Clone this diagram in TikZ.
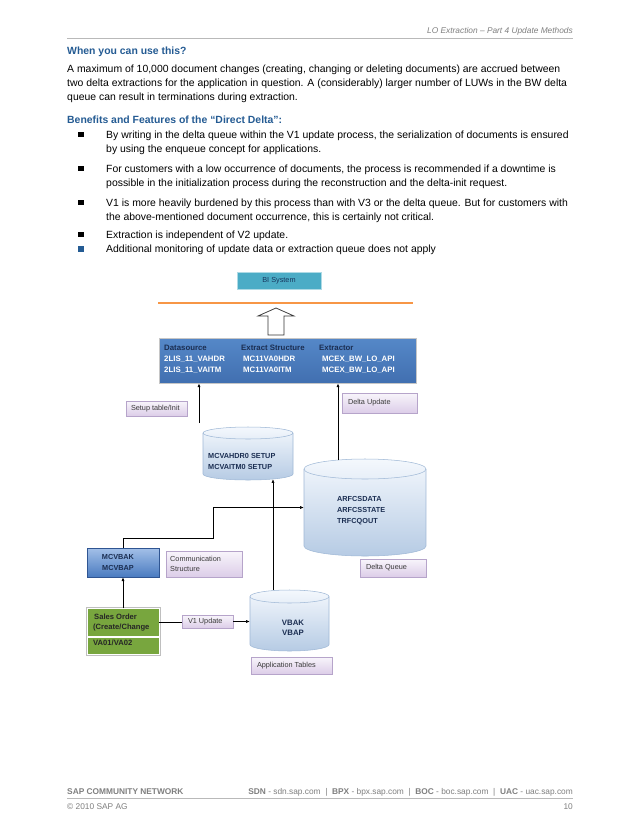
\documentclass[tikz,border=0pt]{standalone}
\usepackage{fontspec}
\setmainfont{Liberation Sans}
\usetikzlibrary{calc,fit,shadows,arrows.meta}
\definecolor{headblue}{HTML}{245B93}
\definecolor{hdrgray}{HTML}{7F7F7F}
\definecolor{bitea}{HTML}{4BACC6}
\definecolor{bitext}{HTML}{17365D}
\definecolor{orangeline}{HTML}{F79646}
\definecolor{dsblueA}{HTML}{5588C8}
\definecolor{dsblueB}{HTML}{416FB0}
\definecolor{dsnavy}{HTML}{1B2E52}
\definecolor{lavA}{HTML}{F8F5FB}
\definecolor{lavB}{HTML}{DCCDE8}
\definecolor{lavline}{HTML}{B6A4CA}
\definecolor{cylA}{HTML}{F4F8FD}
\definecolor{cylB}{HTML}{B6CBE4}
\definecolor{cylline}{HTML}{9FB8D6}
\definecolor{mcA}{HTML}{A3C0E8}
\definecolor{mcB}{HTML}{4A7BC0}
\definecolor{mcline}{HTML}{2F5592}
\definecolor{sogreen}{HTML}{78A63E}
\definecolor{labeltext}{HTML}{3A3A3A}
\newcommand\dbcyl[5]{%
  \path[top color=cylA, bottom color=cylB, draw=cylline, line width=0.5pt]
    (#1-#4,#2+#5) -- (#1-#4,#3-#5)
    arc[start angle=180, end angle=0, x radius=#4, y radius=#5]
    -- (#1+#4,#2+#5)
    arc[start angle=0, end angle=-180, x radius=#4, y radius=#5] -- cycle;
  \draw[cylline, line width=0.5pt] (#1-#4,#2+#5)
    arc[start angle=180, end angle=0, x radius=#4, y radius=#5];}
\begin{document}
\begin{tikzpicture}[x=0.9592pt, y=-0.9592pt,
  txt/.style={inner sep=0pt, anchor=base west},
  body/.style={txt, font=\fontsize{10}{12}\selectfont},
  dtxt/.style={txt, font=\fontsize{7}{8}\selectfont},
  dbold/.style={txt, font=\fontsize{7}{8}\selectfont\bfseries},
  dsbold/.style={txt, font=\fontsize{7.5}{9}\selectfont\bfseries},
  area/.style={inner sep=0pt},
  shadowed/.style={drop shadow={shadow xshift=1.2pt, shadow yshift=-1.2pt, opacity=0.3, fill=black}},
  lbl/.style={area, top color=lavA, bottom color=lavB, draw=lavline, line width=0.4pt, shadowed},
  arr/.style={-{Latex[length=3.6pt, width=3pt]}, line width=0.6pt, black},
  conn/.style={line width=0.6pt, black},
  bulletsq/.style={fill=black, inner sep=0pt, minimum size=5.2pt}
]
\path[fill=white] (0,0) rectangle (638,826);
\useasboundingbox (0,0) rectangle (638,826);

% ---------- page header ----------
\node[txt, anchor=base east, font=\fontsize{8}{9.6}\selectfont\itshape, text=hdrgray] (hdr) at (573,33) {LO Extraction – Part 4 Update Methods};
\draw[gray!55, line width=0.6pt] (67,38) -- (573,38);

% ---------- text ----------
\node[txt, font=\fontsize{10}{12}\selectfont\bfseries, text=headblue] (h1) at (67,54) {When you can use this?};
\node[body] (p1) at (67,72) {A maximum of 10,000 document changes (creating, changing or deleting documents) are accrued between};
\node[body] (p2) at (67,86) {two delta extractions for the application in question. A (considerably) larger number of LUWs in the BW delta};
\node[body] (p3) at (67,100) {queue can result in terminations during extraction.};
\node[txt, font=\fontsize{10}{12}\selectfont\bfseries, text=headblue] (h2) at (67,123) {Benefits and Features of the “Direct Delta”:};

\node[bulletsq] (s1) at (81,134.5) {};
\node[body] (b1a) at (106,138) {By writing in the delta queue within the V1 update process, the serialization of documents is ensured};
\node[body] (b1b) at (106,152) {by using the enqueue concept for applications.};
\node[bulletsq] (s2) at (81,168.5) {};
\node[body] (b2a) at (106,172) {For customers with a low occurrence of documents, the process is recommended if a downtime is};
\node[body] (b2b) at (106,186) {possible in the initialization process during the reconstruction and the delta-init request.};
\node[bulletsq] (s3) at (81,202.5) {};
\node[body] (b3a) at (106,206) {V1 is more heavily burdened by this process than with V3 or the delta queue. But for customers with};
\node[body] (b3b) at (106,220) {the above-mentioned document occurrence, this is certainly not critical.};
\node[bulletsq] (s4) at (81,234.5) {};
\node[body] (b4) at (106,238) {Extraction is independent of V2 update.};
\node[bulletsq, fill=headblue] (s5) at (81,249) {};
\node[body] (b5) at (106,252.5) {Additional monitoring of update data or extraction queue does not apply};

% ---------- diagram ----------
\node[area, fit={(237,272)(321,289)}, fill=bitea, draw=bitea!45, line width=0.7pt, shadowed] (bi) {};
\node[inner sep=0pt, font=\fontsize{7}{8}\selectfont, text=bitext] (bitxt) at (bi.center) {BI System};
\draw[orangeline, line width=1.6pt] (158,303) -- (413,303);
\draw[line width=0.7pt, draw=black!80, fill=white] (268,335) -- (268,316) -- (258,316) -- (276,308) -- (294,316) -- (284,316) -- (284,335) -- cycle;

\node[area, fit={(159,338)(416,383)}, top color=dsblueA, bottom color=dsblueB, draw=gray!45, line width=0.9pt, shadowed] (ds) {};
\node[dsbold, text=dsnavy] (dsh1) at (164,350) {Datasource};
\node[dsbold, text=white] (dsa1) at (164,361) {2LIS\_11\_VAHDR};
\node[dsbold, text=white] (dsb1) at (164,372) {2LIS\_11\_VAITM};
\node[dsbold, text=dsnavy] (dsh2) at (241,350) {Extract Structure};
\node[dsbold, text=white] (dsa2) at (243,361) {MC11VA0HDR};
\node[dsbold, text=white] (dsb2) at (243,372) {MC11VA0ITM};
\node[dsbold, text=dsnavy] (dsh3) at (319,350) {Extractor};
\node[dsbold, text=white] (dsa3) at (322,361) {MCEX\_BW\_LO\_API};
\node[dsbold, text=white] (dsb3) at (322,372) {MCEX\_BW\_LO\_API};

% labels
\node[lbl, fit={(126,401)(187,416)}] (setuplbl) {};
\node[dtxt, anchor=west, text=labeltext] (setuplbltxt) at ($(setuplbl.west)+(5,0)$) {Setup table/Init};
\node[lbl, fit={(342,393)(417,413)}] (dulbl) {};
\node[dtxt, anchor=west, text=labeltext] (dulbltxt) at ($(dulbl.west)+(6,0)$) {Delta Update};
\node[lbl, fit={(166,551)(242,577)}] (cslbl) {};
\node[dtxt, text=labeltext] (cslbltxt1) at (170,561) {Communication};
\node[dtxt, text=labeltext] (cslbltxt2) at (170,571) {Structure};
\node[lbl, fit={(360,559)(426,577)}] (dqlbl) {};
\node[dtxt, anchor=west, text=labeltext] (dqlbltxt) at ($(dqlbl.west)+(6,0)$) {Delta Queue};
\node[lbl, fit={(182,615)(233,628)}] (v1) {};
\node[dtxt, anchor=west, text=labeltext] (v1txt) at ($(v1.west)+(6,0)$) {V1 Update};
\node[lbl, fit={(251,657)(332,674)}] (atlbl) {};
\node[dtxt, anchor=west, text=labeltext] (atlbltxt) at ($(atlbl.west)+(6,0)$) {Application Tables};

% cylinders
\dbcyl{248}{427}{480}{45}{6}
\node[area, fit={(203,427)(293,480)}] (setupdb) {};
\node[dbold, text=dsnavy] (setupt1) at (208,458.5) {MCVAHDR0 SETUP};
\node[dbold, text=dsnavy] (setupt2) at (208,469.5) {MCVAITM0 SETUP};

\dbcyl{365}{459}{556}{61}{10}
\node[area, fit={(304,459)(426,556)}] (arfcsdb) {};
\node[dbold, text=dsnavy] (arf1) at (337,501.5) {ARFCSDATA};
\node[dbold, text=dsnavy] (arf2) at (337,512.5) {ARFCSSTATE};
\node[dbold, text=dsnavy] (arf3) at (337,523.5) {TRFCQOUT};

\dbcyl{289.5}{590}{651}{39.5}{6.5}
\node[area, fit={(250,590)(329,651)}] (vbakdb) {};
\node[txt, anchor=base, font=\fontsize{7.5}{9}\selectfont\bfseries, text=dsnavy] (vb1) at (293,625.5) {VBAK};
\node[txt, anchor=base, font=\fontsize{7.5}{9}\selectfont\bfseries, text=dsnavy] (vb2) at (293,635.5) {VBAP};

% communication structure box
\node[area, fit={(87,548)(159,577)}, top color=mcA, bottom color=mcB, draw=mcline, line width=0.6pt, shadowed] (mcvbak) {};
\node[dbold, anchor=base, text=dsnavy] (mc1) at (118,559) {MCVBAK};
\node[dbold, anchor=base, text=dsnavy] (mc2) at (118,570) {MCVBAP};

% sales order
\draw[gray!50, line width=0.8pt, fill=white] (86,607) rectangle (160,655);
\node[area, fit={(87.5,608.5)(158.5,636)}, fill=sogreen] (so1) {};
\node[area, fit={(87.5,638)(158.5,653.5)}, fill=sogreen] (so2) {};
\node[txt, font=\fontsize{7.3}{8}\selectfont\bfseries, text=black!85] (so1t1) at (94,619.5) {Sales Order};
\node[txt, font=\fontsize{7.3}{8}\selectfont\bfseries, text=black!85] (so1t2) at (93,629.5) {(Create/Change};
\node[txt, font=\fontsize{7.3}{8}\selectfont\bfseries, text=black!85] (so2t) at (93,645.5) {VA01/VA02};

% ---------- connectors ----------
\coordinate (initfoot) at (199,423);
\draw[arr] (initfoot) -- (initfoot |- ds.south);
\coordinate (dqup) at ($(arfcsdb.north)+(-27,1)$);
\draw[arr] (dqup) -- (dqup |- ds.south);
\draw[arr] (mcvbak.north) -- ++(0,-9) -- ++(90,0) |- (arfcsdb.west);
\coordinate (vbup) at ($(vbakdb.north)+(-16.5,0.5)$);
\draw[arr] (vbup) -- ($(vbup |- setupdb.south)+(0,-1)$);
\draw[conn] (so1.east) -- (so1.east -| v1.west);
\draw[arr] (v1.east) -- (v1.east -| vbakdb.west);
\draw[arr] (so1.north) -- (mcvbak.south);

% ---------- footer ----------
\node[txt, font=\fontsize{8}{9.6}\selectfont\bfseries, text=hdrgray] (f1) at (67,794) {SAP COMMUNITY NETWORK};
\node[txt, anchor=base east, font=\fontsize{8}{9.6}\selectfont, text=hdrgray] (f2) at (573,794)
  {\textbf{SDN} - sdn.sap.com \ | \ \textbf{BPX} - bpx.sap.com \ | \ \textbf{BOC} - boc.sap.com \ | \ \textbf{UAC} - uac.sap.com};
\draw[gray!55, line width=0.6pt] (67,798.5) -- (573,798.5);
\node[txt, font=\fontsize{8}{9.6}\selectfont, text=hdrgray] (f3) at (67,809) {© 2010 SAP AG};
\node[txt, anchor=base east, font=\fontsize{8}{9.6}\selectfont, text=hdrgray] (f4) at (573,809) {10};
\end{tikzpicture}
\end{document}
